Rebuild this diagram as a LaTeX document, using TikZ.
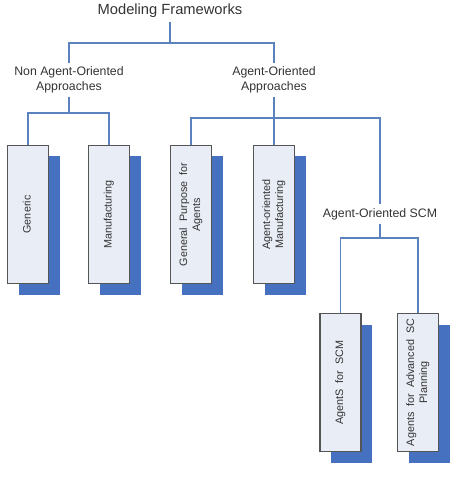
\documentclass[tikz,border=0pt]{standalone}
\usepackage{fontspec}
\setmainfont{Liberation Sans}
\usetikzlibrary{shadows}
\definecolor{linkblue}{HTML}{5B82BE}
\definecolor{shadowblue}{HTML}{4571C0}
\definecolor{boxfill}{HTML}{E9EDF6}
\definecolor{boxgray}{HTML}{555555}
\definecolor{textgray}{HTML}{333333}
\newcommand{\vtext}[1]{\rotatebox{90}{\begin{tabular}{@{}c@{}}#1\end{tabular}}}

\begin{document}
\begin{tikzpicture}[x=1pt,y=-1pt]
\tikzset{
  headnode/.style={font=\fontsize{14.7}{17}\selectfont,text=textgray,inner sep=4pt},
  groupnode/.style={align=center,font=\fontsize{12.3}{15}\selectfont,text=textgray,inner sep=4pt},
  leafnode/.style={draw=boxgray,line width=1.2pt,fill=boxfill,minimum width=41pt,minimum height=138pt,inner sep=0pt,
    font=\fontsize{10.8}{13}\selectfont,text=textgray,
    drop shadow={shadow xshift=11pt,shadow yshift=-11pt,fill=shadowblue,opacity=1}},
  link/.style={draw=linkblue,line width=1.6pt}
}
\useasboundingbox (0,0) rectangle (474,486);
\node[headnode] (n_root) at (170,11) {Modeling Frameworks};
\node[groupnode] (n_nonagent) at (69,80) {Non Agent-Oriented\\Approaches};
\node[groupnode] (n_agent) at (274,80) {Agent-Oriented\\Approaches};
\node[groupnode] (n_scm) at (380,214) {Agent-Oriented SCM};
\node[leafnode] (n_generic) at (28,214.5) {\vtext{Generic}};
\node[leafnode] (n_manuf) at (109,214.5) {\vtext{Manufacturing}};
\node[leafnode] (n_general) at (191,214.5) {\vtext{General~~Purpose~~for\\Agents}};
\node[leafnode] (n_agentman) at (274,214.5) {\vtext{Agent-oriented\\Manufacturing}};
\node[leafnode] (n_agentscm) at (340.5,382.5) {\vtext{AgentS~~for~~SCM}};
\node[leafnode] (n_advanced) at (418,382.5) {\vtext{Agents~~for~~Advanced~~SC\\Planning}};
\coordinate (j_root) at (170,43);
\coordinate (j_nonagent) at (69,113);
\coordinate (j_agent) at (274,118);
\coordinate (j_scm) at (380,238);
\draw[link] (n_root) -- (j_root);
\draw[link] (j_root) -| (n_nonagent);
\draw[link] (j_root) -| (n_agent);
\draw[link] (n_nonagent) -- (j_nonagent);
\draw[link] (j_nonagent) -| (n_generic);
\draw[link] (j_nonagent) -| (n_manuf);
\draw[link] (n_agent) -- (j_agent);
\draw[link] (j_agent) -| (n_general);
\draw[link] (j_agent) -- (n_agentman);
\draw[link] (j_agent) -| (n_scm);
\draw[link] (n_scm) -- (j_scm);
\draw[link] (j_scm) -| (n_agentscm);
\draw[link] (j_scm) -| (n_advanced);
\end{tikzpicture}
\end{document}
